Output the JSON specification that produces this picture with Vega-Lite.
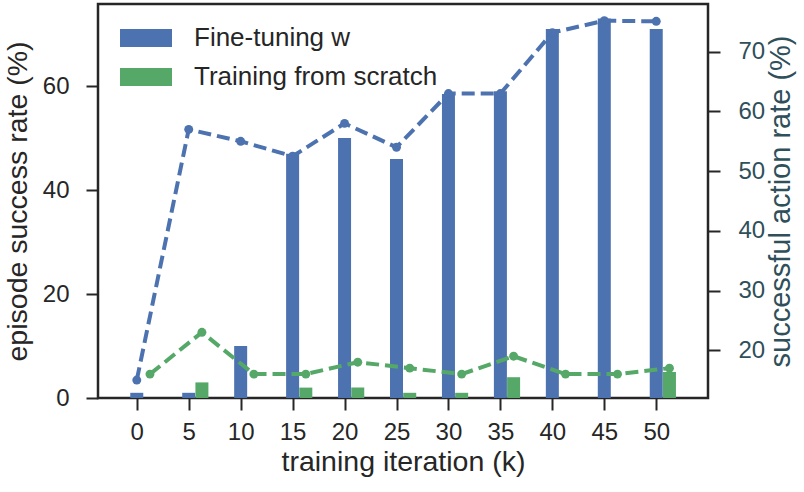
{
  "$schema": "https://vega.github.io/schema/vega-lite/v6.json",
  "width": 610,
  "height": 394,
  "autosize": {"type": "none"},
  "padding": {"left": 98, "top": 4, "right": 96, "bottom": 94},
  "background": "white",
  "config": {
    "font": "Liberation Sans",
    "view": {"stroke": "#262626", "strokeWidth": 2.5},
    "axis": {
      "grid": false,
      "domain": false,
      "tickColor": "#262626",
      "tickWidth": 2,
      "tickSize": 12,
      "labelFontSize": 24,
      "labelColor": "#262626",
      "labelPadding": 10,
      "titleFontSize": 28.5,
      "titleFontWeight": "normal",
      "titleColor": "#262626"
    }
  },
  "data": {
    "values": [
      {"iter": 0, "series": "Fine-tuning w", "episode": 1, "action": 15},
      {"iter": 5, "series": "Fine-tuning w", "episode": 1, "action": 57},
      {"iter": 10, "series": "Fine-tuning w", "episode": 10, "action": 55},
      {"iter": 15, "series": "Fine-tuning w", "episode": 47, "action": 52.5},
      {"iter": 20, "series": "Fine-tuning w", "episode": 50, "action": 58},
      {"iter": 25, "series": "Fine-tuning w", "episode": 46, "action": 54},
      {"iter": 30, "series": "Fine-tuning w", "episode": 58.5, "action": 63},
      {"iter": 35, "series": "Fine-tuning w", "episode": 59, "action": 63},
      {"iter": 40, "series": "Fine-tuning w", "episode": 71, "action": 73.2},
      {"iter": 45, "series": "Fine-tuning w", "episode": 73, "action": 75.2},
      {"iter": 50, "series": "Fine-tuning w", "episode": 71, "action": 75.1},
      {"iter": 0, "series": "Training from scratch", "episode": 0, "action": 16},
      {"iter": 5, "series": "Training from scratch", "episode": 3, "action": 23},
      {"iter": 10, "series": "Training from scratch", "episode": 0, "action": 16},
      {"iter": 15, "series": "Training from scratch", "episode": 2, "action": 16},
      {"iter": 20, "series": "Training from scratch", "episode": 2, "action": 18},
      {"iter": 25, "series": "Training from scratch", "episode": 1, "action": 17},
      {"iter": 30, "series": "Training from scratch", "episode": 1, "action": 16},
      {"iter": 35, "series": "Training from scratch", "episode": 4, "action": 19},
      {"iter": 40, "series": "Training from scratch", "episode": 0, "action": 16},
      {"iter": 45, "series": "Training from scratch", "episode": 0, "action": 16},
      {"iter": 50, "series": "Training from scratch", "episode": 5, "action": 17}
    ]
  },
  "layer": [
    {
      "layer": [
        {
          "transform": [{"filter": "datum.series === 'Fine-tuning w'"}],
          "mark": {"type": "bar", "width": 13},
          "encoding": {
            "x": {"field": "iter", "type": "quantitative"},
            "y": {"field": "episode", "type": "quantitative"},
            "color": {"field": "series", "type": "nominal"}
          }
        },
        {
          "transform": [{"filter": "datum.series === 'Training from scratch'"}],
          "mark": {"type": "bar", "width": 13, "xOffset": 13.2},
          "encoding": {
            "x": {"field": "iter", "type": "quantitative"},
            "y": {"field": "episode", "type": "quantitative"},
            "color": {"field": "series", "type": "nominal"}
          }
        }
      ],
      "encoding": {
        "x": {
          "field": "iter",
          "type": "quantitative",
          "scale": {"domain": [-3.25, 54.5], "nice": false, "zero": false},
          "axis": {"values": [0, 5, 10, 15, 20, 25, 30, 35, 40, 45, 50], "title": "training iteration (k)", "titlePadding": 3}
        },
        "y": {
          "field": "episode",
          "type": "quantitative",
          "scale": {"domain": [0, 75.8], "nice": false},
          "axis": {"values": [0, 20, 40, 60], "title": "episode success rate (%)", "titlePadding": 10, "labelPadding": 17}
        },
        "color": {
          "field": "series",
          "type": "nominal",
          "scale": {"domain": ["Fine-tuning w", "Training from scratch"], "range": ["#4C72B0", "#55A868"]},
          "legend": {
            "title": null,
            "orient": "none",
            "legendX": 22,
            "legendY": 8,
            "symbolType": "M-1,-0.35H1V0.35H-1Z",
            "symbolSize": 2704,
            "symbolStrokeWidth": 0,
            "symbolOpacity": 1,
            "labelFontSize": 26,
            "labelLimit": 500,
            "labelColor": "#262626",
            "labelOffset": 22,
            "rowPadding": -1
          }
        }
      }
    },
    {
      "layer": [
        {
          "transform": [{"filter": "datum.series === 'Fine-tuning w'"}],
          "mark": {"type": "line", "color": "#4C72B0", "strokeWidth": 4, "strokeDash": [13, 6]},
          "encoding": {
            "x": {"field": "iter", "type": "quantitative"},
            "y": {"field": "action", "type": "quantitative"}
          }
        },
        {
          "transform": [{"filter": "datum.series === 'Fine-tuning w'"}],
          "mark": {"type": "point", "filled": true, "color": "#4C72B0", "size": 80, "opacity": 1},
          "encoding": {
            "x": {"field": "iter", "type": "quantitative"},
            "y": {"field": "action", "type": "quantitative"}
          }
        },
        {
          "transform": [{"filter": "datum.series === 'Training from scratch'"}],
          "mark": {"type": "line", "color": "#55A868", "strokeWidth": 4, "strokeDash": [13, 6], "xOffset": 13.2},
          "encoding": {
            "x": {"field": "iter", "type": "quantitative"},
            "y": {"field": "action", "type": "quantitative"}
          }
        },
        {
          "transform": [{"filter": "datum.series === 'Training from scratch'"}],
          "mark": {"type": "point", "filled": true, "color": "#55A868", "size": 80, "opacity": 1, "xOffset": 13.2},
          "encoding": {
            "x": {"field": "iter", "type": "quantitative"},
            "y": {"field": "action", "type": "quantitative"}
          }
        }
      ],
      "encoding": {
        "x": {"field": "iter", "type": "quantitative"},
        "y": {
          "field": "action",
          "type": "quantitative",
          "scale": {"domain": [12, 78], "nice": false, "zero": false},
          "axis": {
            "orient": "right",
            "values": [20, 30, 40, 50, 60, 70],
            "title": "successful action rate (%)",
            "titleAngle": 270,
            "titleBaseline": "top",
            "titleFontSize": 29,
            "labelColor": "#2F4F5A",
            "titleColor": "#2F4F5A",
            "labelPadding": 18,
            "titlePadding": 2
          }
        }
      }
    }
  ],
  "resolve": {"scale": {"y": "independent"}}
}
